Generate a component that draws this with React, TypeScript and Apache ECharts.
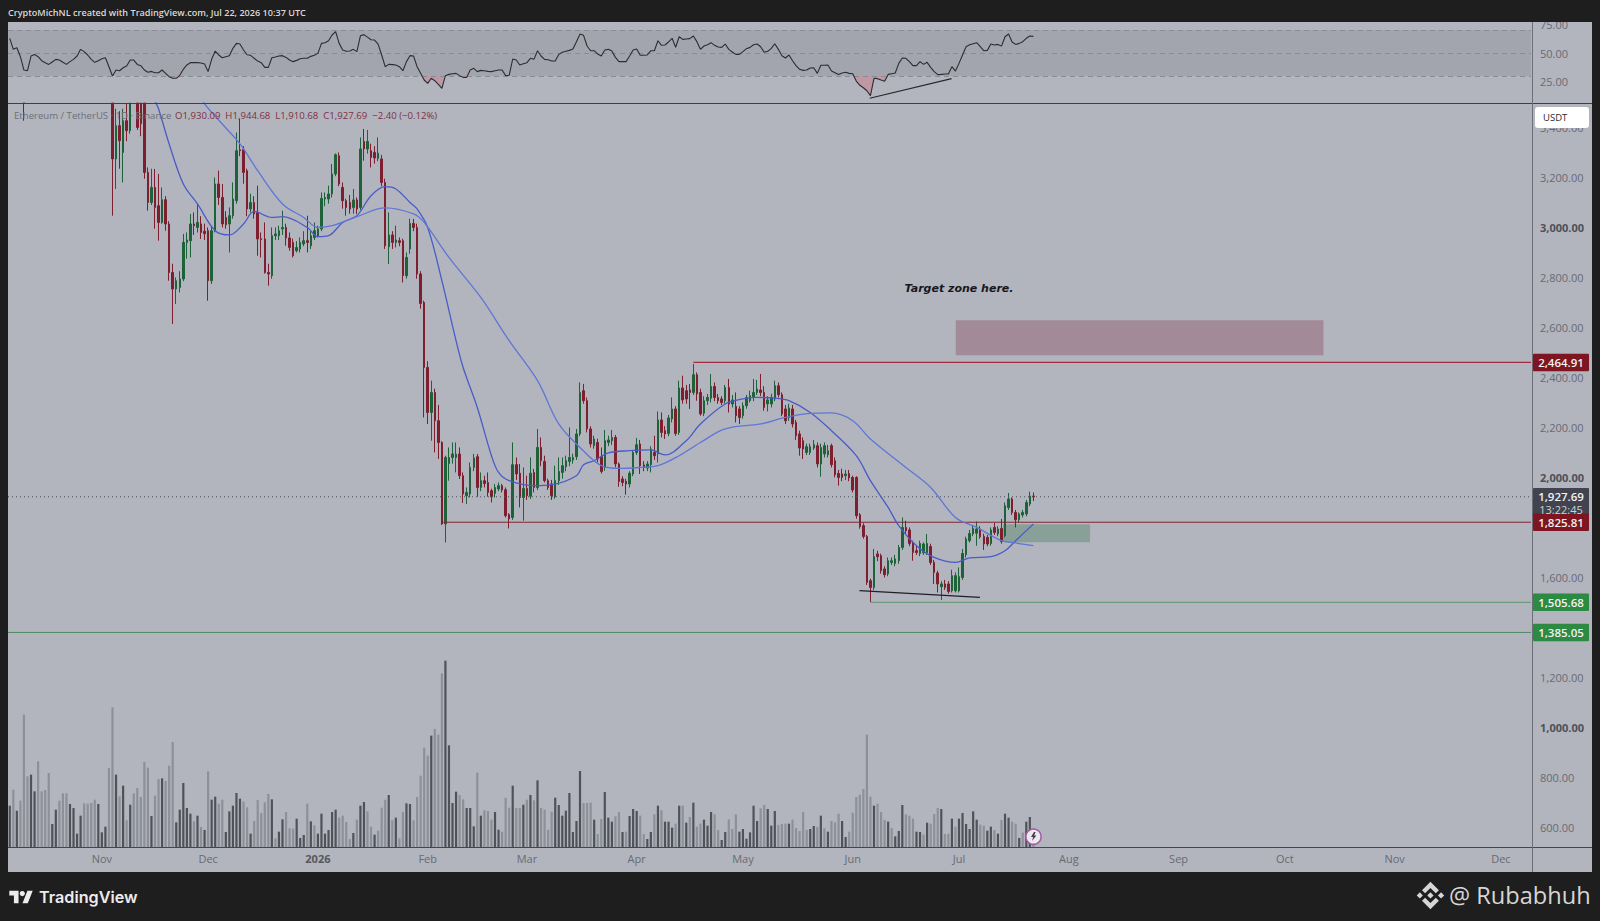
import React, { useEffect, useRef } from "react";
import * as echarts from "echarts";

// ---------- calendar ----------
const firstDayUtc = Date.UTC(2025, 9, 6);
const slotCount = 430;
const dayLabels: string[] = [];
for (let i = 0; i < slotCount; i++) {
  dayLabels.push(new Date(firstDayUtc + i * 86400000).toISOString().slice(0, 10));
}
const tickDates = ["2025-11-01", "2025-12-01", "2026-01-01", "2026-02-01", "2026-03-01", "2026-04-01", "2026-05-01", "2026-06-01", "2026-07-01", "2026-08-01", "2026-09-01", "2026-10-01", "2026-11-01", "2026-12-01"];
const tickNames = ["Nov", "Dec", "2026", "Feb", "Mar", "Apr", "May", "Jun", "Jul", "Aug", "Sep", "Oct", "Nov", "Dec"];

// ---------- daily candles: open, close, low, high ----------
const candles: number[][] = [
[4690,4685,4620,4755],[4685,4525,4490,4750],[4525,4515,4400,4560],[4515,4370,4340,4530],[4370,3830,3432,4395],[3830,3750,3680,3860],[3750,4155,3715,4170],[4155,3990,3930,4295],[3990,4125,3900,4180],[4125,3985,3900,4210],
[3985,3890,3810,4010],[3890,3830,3680,3900],[3830,3890,3700,3960],[3890,3980,3850,4030],[3980,3870,3840,4020],[3870,3790,3720,3910],[3790,3855,3720,3890],[3855,3930,3820,3960],[3930,4030,3910,4060],[4030,4160,4010,4190],
[4160,4115,4060,4250],[4115,3990,3950,4140],[3990,3880,3810,4030],[3880,3840,3760,3920],[3840,3850,3790,3870],[3850,3870,3800,3900],[3870,3790,3760,3880],[3790,3720,3680,3800],[3720,3600,3510,3740],[3600,3279,3052,3620],
[3279,3412,3159,3480],[3412,3352,3240,3470],[3305,3432,3185,3480],[3432,3392,3350,3500],[3392,3560,3380,3600],[3560,3580,3510,3650],[3580,3405,3395,3650],[3530,3420,3370,3590],[3540,3225,3200,3600],[3225,3105,3072,3245],
[3105,3165,3095,3240],[3165,3085,3000,3239],[3092,3025,2952,3219],[3025,3116,3020,3165],[3116,3019,2992,3130],[3019,2825,2792,3030],[2825,2759,2619,2860],[2759,2792,2699,2805],[2765,2799,2745,2830],[2799,2945,2790,2979],
[2945,2955,2880,2985],[2952,3019,2885,3059],[3019,3012,2975,3065],[3005,3025,2985,3099],[3019,2985,2959,3050],[2990,2980,2955,3020],[2992,2792,2712,3005],[2792,2992,2779,3010],[2992,3179,2985,3205],[3179,3125,3095,3232],
[3125,3019,3005,3179],[3045,3016,3000,3070],[3019,3052,2905,3085],[3052,3119,3040,3185],[3112,3312,3100,3385],[3316,3312,3290,3439],[3316,3225,3180,3330],[3232,3079,3050,3240],[3079,3105,3065,3140],[3105,3059,3040,3130],
[3065,2959,2892,3172],[2960,2956,2885,2985],[2959,2825,2820,3025],[2825,2819,2772,2860],[2812,2972,2800,3005],[2972,2979,2955,3005],[2972,2992,2955,3012],[2999,3005,2975,3072],[3005,2963,2932,3020],[2963,2925,2912,2985],
[2945,2892,2885,2960],[2912,2925,2905,2950],[2919,2945,2905,2965],[2939,2952,2930,2990],[2952,2945,2905,3052],[2932,2972,2919,2990],[2965,2992,2955,3025],[2970,2999,2965,3012],[2999,3121,2990,3145],[3119,3125,3090,3145],
[3119,3139,3100,3172],[3139,3219,3125,3259],[3219,3296,3210,3301],[3292,3179,3170,3305],[3165,3112,3080,3185],[3112,3085,3052,3120],[3105,3079,3060,3135],[3085,3115,3060,3159],[3115,3079,3059,3125],[3085,3319,3075,3365],
[3349,3319,3272,3399],[3319,3349,3300,3395],[3312,3285,3245,3340],[3305,3283,3260,3330],[3281,3302,3270,3365],[3279,3185,3170,3295],[3185,2932,2919,3200],[2928,2975,2859,3065],[2975,2945,2919,2990],[2945,2955,2925,3012],
[2952,2945,2930,2965],[2952,2812,2785,2960],[2812,2885,2800,2905],[2919,3021,2900,3040],[3021,3005,2990,3039],[3005,2819,2800,3020],[2819,2701,2680,2830],[2705,2445,2245,2712],[2445,2265,2219,2470],[2265,2345,2152,2392],
[2345,2232,2105,2360],[2232,2145,2079,2295],[2145,1819,1815,2150],[1819,2085,1745,2092],[2061,2085,1992,2125],[2085,2099,2060,2145],[2085,2098,2025,2145],[2099,2012,1999,2125],[2012,1939,1903,2025],[1932,1945,1899,1965],
[1939,2045,1925,2065],[2045,2083,2030,2099],[2088,1965,1928,2099],[1965,1992,1950,2025],[1992,1981,1965,2012],[1985,1945,1928,2025],[1952,1928,1905,1960],[1941,1965,1925,1979],[1959,1972,1950,1985],[1972,1955,1945,1979],
[1956,1852,1845,1965],[1856,1839,1801,1862],[1845,2056,1835,2145],[2056,2019,1995,2085],[2022,1925,1885,2059],[1925,1961,1832,2045],[1961,1932,1915,2012],[1930,2022,1919,2085],[2025,1965,1945,2039],[1965,2125,1955,2199],
[2125,2072,2050,2165],[2069,1992,1985,2092],[1992,1965,1955,2000],[1979,1932,1915,1995],[1928,1992,1920,2052],[1992,2029,1975,2085],[2025,2052,2000,2085],[2048,2072,2030,2092],[2069,2085,2050,2205],[2075,2085,2060,2100],
[2088,2179,2075,2199],[2179,2345,2170,2385],[2352,2312,2300,2379],[2312,2199,2185,2325],[2199,2139,2125,2210],[2132,2159,2120,2172],[2145,2079,2065,2160],[2088,2029,2021,2125],[2045,2152,2032,2195],[2145,2155,2130,2172],
[2152,2165,2135,2195],[2165,2059,2045,2175],[2059,1989,1968,2065],[1999,1985,1970,2010],[1989,1979,1936,2000],[1979,2022,1965,2030],[2019,2105,2010,2115],[2105,2136,2095,2163],[2139,2052,2019,2155],[2055,2045,2030,2070],
[2043,2059,2030,2070],[2056,2119,2025,2130],[2105,2092,2075,2172],[2099,2235,2065,2269],[2235,2185,2165,2265],[2192,2179,2159,2210],[2181,2243,2170,2255],[2239,2279,2225,2325],[2279,2181,2172,2290],[2185,2363,2175,2392],
[2363,2315,2300,2412],[2352,2319,2300,2375],[2355,2345,2279,2379],[2345,2416,2335,2459],[2416,2339,2312,2425],[2345,2259,2252,2360],[2262,2312,2250,2330],[2312,2325,2295,2339],[2322,2369,2305,2419],[2369,2325,2310,2385],
[2325,2312,2300,2339],[2319,2305,2295,2330],[2312,2365,2300,2375],[2365,2299,2265,2399],[2299,2315,2285,2335],[2289,2252,2225,2345],[2279,2245,2219,2290],[2252,2292,2240,2305],[2292,2325,2280,2335],[2312,2332,2305,2352],
[2325,2345,2310,2399],[2345,2359,2335,2395],[2355,2345,2330,2419],[2345,2285,2272,2370],[2299,2315,2269,2330],[2299,2325,2285,2340],[2319,2372,2310,2392],[2372,2336,2325,2385],[2336,2259,2250,2345],[2279,2232,2219,2295],
[2245,2283,2232,2300],[2279,2219,2205,2295],[2225,2172,2155,2235],[2179,2123,2092,2192],[2152,2119,2079,2165],[2105,2128,2095,2140],[2105,2128,2095,2140],[2123,2136,2115,2155],[2132,2059,2045,2145],[2059,2125,2008,2140],
[2099,2132,2085,2145],[2096,2112,2085,2135],[2132,2056,2045,2140],[2072,2016,2005,2085],[2021,2005,1972,2035],[2019,2005,1990,2040],[2012,2019,1995,2035],[2021,2003,1990,2035],[2005,1955,1945,2012],[2005,1852,1840,2010],
[1856,1809,1800,1862],[1812,1769,1760,1822],[1769,1585,1575,1775],[1592,1565,1505.68,1600],[1565,1688,1555,1719],[1699,1688,1670,1712],[1692,1632,1620,1700],[1639,1616,1605,1650],[1619,1672,1610,1685],[1665,1672,1655,1685],
[1661,1679,1650,1695],[1672,1725,1660,1735],[1725,1805,1715,1845],[1805,1792,1780,1832],[1795,1741,1730,1805],[1745,1705,1672,1752],[1712,1705,1695,1732],[1701,1741,1690,1752],[1704,1739,1695,1745],[1704,1741,1695,1779],
[1729,1665,1655,1740],[1665,1625,1579,1675],[1623,1579,1545,1632],[1568,1579,1515,1590],[1579,1565,1555,1595],[1579,1549,1540,1590],[1552,1612,1545,1636],[1552,1612,1545,1625],[1552,1608,1545,1645],[1605,1701,1595,1719],
[1696,1759,1685,1768],[1752,1781,1745,1795],[1779,1801,1770,1812],[1782,1799,1732,1829],[1799,1768,1760,1810],[1769,1739,1715,1780],[1765,1739,1730,1775],[1741,1795,1732,1805],[1805,1785,1775,1825],[1779,1799,1770,1810],
[1801,1749,1740,1839],[1772,1892,1765,1905],[1885,1919,1875,1943],[1919,1865,1855,1925],[1865,1836,1805,1875],[1836,1859,1825,1865],[1855,1865,1845,1875],[1859,1905,1850,1915],[1899,1930.09,1890,1948],[1930.09,1927.69,1910.68,1944.68],
];

// ---------- volume (relative bar heights) ----------
const volumes = [
124,172,109,139,397,212,217,167,257,167,171,222,69,112,139,161,161,129,117,40,
94,131,130,132,142,129,44,61,237,419,217,152,184,80,127,161,177,150,255,238,
93,154,204,206,198,244,315,74,112,192,117,100,77,94,60,51,227,142,151,130,
142,45,107,124,162,145,136,119,40,78,141,102,134,159,143,26,46,83,105,56,
55,85,27,36,130,77,65,40,100,40,51,105,112,88,94,75,24,42,82,124,
135,107,61,37,49,118,142,156,80,88,26,105,131,129,80,150,214,298,274,334,
354,337,521,559,305,132,166,156,143,117,117,62,223,94,110,108,82,105,52,46,
148,118,184,117,117,127,142,156,140,200,117,112,52,106,148,126,94,109,162,45,
78,228,132,132,133,82,39,84,165,88,76,92,105,45,46,93,114,108,94,39,
24,45,98,124,110,76,76,58,70,124,124,73,90,133,61,70,82,64,105,98,
51,21,45,83,54,98,46,54,25,44,124,78,116,126,114,64,108,66,69,70,
70,82,57,48,105,51,54,63,60,94,56,46,78,74,100,78,30,46,103,150,
157,174,337,151,124,130,105,81,76,57,32,48,126,98,94,85,46,45,37,73,
70,99,117,114,39,40,85,61,85,102,69,54,107,82,67,64,49,61,51,40,
81,100,88,76,70,27,43,76,90,12,
];
const volumeTones = [
  "DLDLLLDDLL","LLDDLLLDDD","DLLLLDDDLL","DLDLDLLLLL","DLLDLLLDDD","DDLDLDLDDL","LDDDDDLLDL","LLLLDLDDLL","LDDDLDLDDD","DDDLLLLDLD",
  "DLLDLLLDLD","LLDDLLLLLD","LLLDDDDLLD","DDLDLLLDDL","LLDLLDLDLD","LLLLDDDDDD","DDLLLDLLDD","DLLDLDDDLL","DDLDLDDDLD","LDLDLLDDDL",
  "LDDLLLDDDD","DDLLDDDLLL","DLLLLLDDLD","LDLLLDDLLL","LLLLDLLLDL","DDDLLLDDLD","LLLDLLDLDD","DDDDLLDDLD","LDDLLDLDDL",
].join("");

// ---------- RSI ----------
const rsi = [
62.8,53.2,54.6,46.8,35.2,34.6,47.4,48.8,46.8,43.3,41.6,40.1,42.2,44.5,43.9,41.9,40.1,42.5,44.5,47.4,
53.2,51.2,48.3,44.5,41.9,43.3,45,45.9,38.1,30,35.2,34.6,37.2,38.7,43.9,43.9,40.1,39,35.2,33.2,
34,32.8,32.8,35.2,32.3,29.4,28,28,30.6,35.8,39.6,41.6,41.6,41.6,41.3,40.4,33.8,44.5,51.7,48.3,
45.9,46.8,47.7,54.1,58.4,57.8,52.6,48.5,48,45.4,43,41.6,37.5,37.5,45.9,46.5,47.4,47.7,46.2,43.9,
42.5,43.6,45,45.4,45.4,47.1,48,49.7,58.4,59,60.7,65.7,68.6,58.4,52.6,51.5,51.7,53.2,51.2,65,
66,63.8,61.6,61.3,57.8,48.3,38.1,40.1,39.9,39.6,38.1,34.6,42.5,47.7,47.4,38.1,32.3,26.5,23.6,28,
25.9,22.7,19.3,30.3,31.4,32,32.3,30.3,28.8,28.8,35.2,36.7,33.8,34.9,34.6,34,33.8,34.6,35.2,35.2,
30.3,30.6,44.8,43.9,39.6,40.7,41.6,45.4,44.5,52,47.4,44.5,44.2,43,43,48.8,50.6,51.5,52.3,53.5,
59.9,66.5,65.4,56.1,52,52,49.1,47.4,52.6,53.2,51.7,46.2,42.5,42.5,42.5,47.4,52.6,53.5,48,48,
48.3,52,52,60.7,56.7,57,59.6,62.8,55,64.2,61.9,62.2,62.5,64.8,59.9,53.2,56.1,57.2,59,56.7,
55.2,54.9,57.8,53.2,50.9,48.8,48.8,51.2,53.8,54.9,57.2,57.8,55.5,50.6,51.5,54.1,58.1,53.2,47.7,45.7,
48.3,43.3,39,35.8,34.9,35.2,37,37.2,32.3,39.3,39.3,39.6,34.3,32.9,31.4,32.6,33.2,32.3,32,25.6,
21.9,19.8,17.2,12.9,28,27.7,26.5,25.4,31.4,32,32.6,41,45.7,45.4,42.5,39,39,42.5,40.1,41.9,
37.5,33.8,31.2,31.4,31.7,31.7,38.1,34.3,41,48.3,55.5,57.2,58.1,59,55.5,52,52.3,57.8,57,57.5,
56,64.2,66.5,59.6,57.5,58.4,59.9,62.8,64.8,64.5,
];
const rsiLevels = [70, 50, 30];
const rsiTicks = [75, 50, 25];
const rsiTrend = [[243.3, 10.6], [266.4, 27.7]];

// ---------- moving averages: [day number, price] ----------
const maFast = [[41,3510],[42,3480],[45,3339],[49,3179],[53,3099],[58,2992],[62,2975],[66,3019],[69,3069],[74,3045],[77,3048],[84,3005],[87,2968],[90,2972],[94,3025],[98,3052],[102,3132],[106,3168],[109,3159],[113,3105],[115,3079],[118,3005],[122,2792],[126,2552],[128,2445],[132,2285],[136,2092],[138,2025],[141,1992],[148,1972],[153,1976],[160,2012],[162,2056],[165,2072],[169,2103],[175,2112],[181,2115],[185,2095],[191,2152],[195,2219],[202,2299],[207,2319],[211,2325],[216,2322],[220,2312],[226,2265],[232,2192],[239,2092],[243,1992],[248,1885],[251,1812],[256,1732],[261,1685],[267,1665],[271,1683],[277,1688],[281,1712],[284,1752],[289,1819]];
const maSlow = [[54,3530],[55,3499],[60,3419],[65,3339],[70,3232],[77,3099],[83,3045],[87,3005],[91,3012],[98,3048],[106,3083],[114,3059],[117,3025],[124,2885],[133,2725],[141,2552],[149,2392],[155,2219],[161,2125],[167,2052],[172,2041],[178,2045],[183,2052],[189,2092],[195,2145],[202,2199],[212,2219],[219,2245],[226,2261],[232,2263],[238,2232],[243,2159],[253,2045],[260,1965],[267,1845],[273,1805],[280,1752],[284,1743],[289,1732]];

// ---------- price scale and levels ----------
const priceMin = 526.8;
const priceMax = 3502.8;
const priceTicks = [600, 800, 1000, 1200, 1400, 1600, 2000, 2200, 2400, 2600, 2800, 3000, 3200, 3400];
const strongTicks = [1000, 2000, 3000];
const lastPrice = 1927.69;
const resistanceHigh = 2464.91;
const resistanceLow = 1825.81;
const supportHigh = 1505.68;
const supportLow = 1385.05;
const countdown = "13:22:45";
const targetZone = { fromDay: 267.6, toDay: 371.4, top: 2634, bottom: 2494 };
const buyZone = { fromDay: 280.9, toDay: 305.5, top: 1818, bottom: 1746 };
const lowsTrend = [[240.4, 1552], [274.4, 1525]];

const header = "CryptoMichNL created with TradingView.com, Jul 22, 2026 10:37 UTC";
const symbolTitle = "Ethereum / TetherUS · 1D · Binance";
const ohlcLine = "O1,930.09  H1,944.68  L1,910.68  C1,927.69  −2.40 (−0.12%)";

// ---------- styling ----------
const UP = "#1d6238";
const DOWN = "#7d1f2e";
const VOL_DARK = "#50525a";
const VOL_LIGHT = "#8d9099";
const BLUE_A = "#4a5bc8";
const BLUE_B = "#5f76d6";
const FRAME = "#1e1e1e";
const PANEL = "#b2b5be";
const AXIS_TEXT = "#686a73";
const FONT = "'Open Sans', 'Noto Sans', sans-serif";

const TV_LOGO = "M14 22H7V11H0V4h14v18zM28 22h-8l7.5-18h8L28 22z";
const BNB_LOGO = "M38.73 53.2l24.59-24.58 24.6 24.6 14.3-14.31L63.32 0 24.42 38.9zM0 63.31l14.3-14.31 14.31 14.31-14.31 14.3zM38.73 73.41l24.59 24.59 24.6-24.6 14.31 14.29-38.9 38.91-38.91-38.88zM98 63.31l14.3-14.3 14.31 14.3-14.31 14.3zM77.83 63.3L63.32 48.78 52.59 59.51l-1.24 1.23-2.54 2.54 14.51 14.5 14.51-14.47z";
const BOLT = "M3 0L0 5h2.2L1 9l4.4-5.4H3.2L4.6 0z";

const fmt = (v: number) => v.toLocaleString("en-US", { minimumFractionDigits: 2, maximumFractionDigits: 2 });
const priceY = (p: number) => 103 + (priceMax - p) * 0.25;

function levelSeries(points: number[][], color: string, width = 1, type: any = "solid") {
  return {
    type: "line", xAxisIndex: 1, yAxisIndex: 0, data: points, symbol: "none", silent: true, z: 4,
    lineStyle: { color, width, type },
  };
}
function zoneSeries(zone: any, color: string) {
  return {
    type: "line", xAxisIndex: 1, yAxisIndex: 0, data: [], symbol: "none", silent: true, z: 1,
    markArea: {
      silent: true, itemStyle: { color },
      data: [[{ coord: [zone.fromDay, zone.top] }, { coord: [zone.toDay, zone.bottom] }]],
    },
  };
}
function priceTag(value: number, color: string) {
  const y = priceY(value);
  return [
    { type: "rect", z: 50, shape: { x: 1533, y: y - 8.7, width: 56, height: 17.4, r: 1 }, style: { fill: color } },
    { type: "text", z: 51, style: { x: 1561, y, text: fmt(value), fill: "#f2f2f2", font: `600 11.5px ${FONT}`, textAlign: "center", textVerticalAlign: "middle" } },
  ];
}

export default function App() {
  const ref = useRef<HTMLDivElement>(null);
  useEffect(() => {
    echarts.graphic.registerShape("tvMark", echarts.graphic.extendPath(TV_LOGO, {}));
    echarts.graphic.registerShape("bnbMark", echarts.graphic.extendPath(BNB_LOGO, {}));
    echarts.graphic.registerShape("boltMark", echarts.graphic.extendPath(BOLT, {}));

    const chart = echarts.init(ref.current!, undefined, { renderer: "svg" });
    const rsiBase: (number | null)[] = rsi.map((v, i) => {
      const near = v < 30 || (rsi[i - 1] ?? 99) < 30 || (rsi[i + 1] ?? 99) < 30;
      return near ? Math.min(v, 30) : null;
    });
    const rsiFill = rsiBase.map((v) => (v == null ? null : 30 - v));
    const tickIndex = new Map(tickDates.map((d, i) => [d, tickNames[i]]));
    // A candle's body and wick are not cut at the pane's edge by the library, so stop those that cross it there.
    const drawnCandles = candles.map((c) => (c[2] < priceMax && c[3] > priceMax ? c.map((v) => Math.min(v, priceMax)) : c));

    chart.setOption({
      animation: false,
      backgroundColor: PANEL,
      textStyle: { fontFamily: FONT },
      grid: [
        { left: 8, width: 1523, top: 103, height: 744 },
        { left: 8, width: 1523, top: 22, height: 81 },
      ],
      xAxis: [
        {
          type: "category", gridIndex: 0, data: dayLabels, boundaryGap: true,
          axisLine: { show: false }, axisTick: { show: false }, splitLine: { show: false },
          axisLabel: {
            interval: (_: number, v: string) => tickIndex.has(v),
            formatter: (v: string) => {
              const t = tickIndex.get(v) || "";
              return t === "2026" ? `{b|${t}}` : t;
            },
            color: AXIS_TEXT, fontSize: 11, margin: 6, fontFamily: FONT,
            rich: { b: { fontWeight: 700, color: "#55575f", fontSize: 11, fontFamily: FONT } },
          },
        },
        { type: "value", gridIndex: 0, min: 0, max: slotCount, show: false },
        { type: "category", gridIndex: 1, data: dayLabels, show: false },
        { type: "value", gridIndex: 1, min: 0, max: slotCount, show: false },
      ],
      yAxis: [
        {
          type: "value", gridIndex: 0, position: "right", min: priceMin, max: priceMax, scale: true,
          axisLine: { show: false }, axisTick: { show: false }, splitLine: { show: false },
          axisLabel: {
            customValues: priceTicks, margin: 9, align: "left", color: AXIS_TEXT, fontSize: 11, fontFamily: FONT,
            padding: [0, 0, 2, 0],
            formatter: (v: number) => (strongTicks.includes(v) ? `{b|${fmt(v)}}` : fmt(v)),
            rich: { b: { fontWeight: 700, color: "#4e5058", fontSize: 11, fontFamily: FONT } },
          },
        },
        { type: "value", gridIndex: 0, min: 0, max: 2232, show: false },
        {
          type: "value", gridIndex: 1, position: "right", min: 6.5, max: 77,
          axisLine: { show: false }, axisTick: { show: false }, splitLine: { show: false },
          axisLabel: { customValues: rsiTicks, margin: 9, align: "left", color: AXIS_TEXT, fontSize: 11, fontFamily: FONT, padding: [0, 0, 5, 0], formatter: (v: number) => fmt(v) },
        },
      ],
      series: [
        zoneSeries(targetZone, "rgba(135,55,80,0.34)"),
        zoneSeries(buyZone, "rgba(70,125,90,0.38)"),
        {
          type: "bar", xAxisIndex: 0, yAxisIndex: 1, barWidth: 2.2, z: 1, silent: true,
          data: volumes.map((v, i) => ({ value: v, itemStyle: { color: volumeTones[i] === "D" ? VOL_DARK : VOL_LIGHT } })),
        },
        levelSeries([[0, lastPrice], [slotCount, lastPrice]], "#50525a", 1, [1, 3]),
        {
          type: "candlestick", xAxisIndex: 0, yAxisIndex: 0, data: drawnCandles, barWidth: 2, z: 3, silent: true, clip: true,
          itemStyle: { color: UP, color0: DOWN, borderColor: UP, borderColor0: DOWN, borderWidth: 1 },
        },
        levelSeries([[193.5, resistanceHigh], [slotCount, resistanceHigh]], "#a32c40", 1.2),
        levelSeries([[122.9, resistanceLow], [slotCount, resistanceLow]], "#842433", 1),
        levelSeries([[243.5, supportHigh], [slotCount, supportHigh]], "#6f9c7e", 1.2),
        levelSeries([[0, supportLow], [slotCount, supportLow]], "#4d8a60", 1),
        levelSeries(lowsTrend, "#1f2024", 1.3),
        { type: "line", xAxisIndex: 0, yAxisIndex: 0, data: maFast, symbol: "none", smooth: 0.35, z: 5, silent: true, lineStyle: { color: BLUE_A, width: 1.3 } },
        { type: "line", xAxisIndex: 0, yAxisIndex: 0, data: maSlow, symbol: "none", smooth: 0.35, z: 5, silent: true, lineStyle: { color: BLUE_B, width: 1.3 } },
        {
          type: "line", xAxisIndex: 2, yAxisIndex: 2, data: rsi, symbol: "none", z: 5, silent: true,
          lineStyle: { color: "#2b2d33", width: 1.1 },
          markArea: { silent: true, itemStyle: { color: "#a2a5ae" }, data: [[{ yAxis: rsiLevels[0] }, { yAxis: rsiLevels[2] }]] },
          markLine: {
            silent: true, symbol: "none", label: { show: false },
            lineStyle: { color: "#8a8c95", type: [5, 4], width: 1 },
            data: rsiLevels.map((l) => ({ yAxis: l })),
          },
        },
        { type: "line", xAxisIndex: 2, yAxisIndex: 2, stack: "os", data: rsiBase, symbol: "none", z: 3, silent: true, lineStyle: { width: 0 } },
        { type: "line", xAxisIndex: 2, yAxisIndex: 2, stack: "os", data: rsiFill, symbol: "none", z: 3, silent: true, lineStyle: { width: 0 }, areaStyle: { color: "rgba(225,85,100,0.42)" } },
        { type: "line", xAxisIndex: 3, yAxisIndex: 2, data: rsiTrend, symbol: "none", z: 6, silent: true, lineStyle: { color: "#26272c", width: 1.2 } },
      ],
      graphic: {
        elements: [
          // frame around the chart
          { type: "rect", z: 40, shape: { x: 0, y: 0, width: 1600, height: 22 }, style: { fill: FRAME } },
          { type: "rect", z: 40, shape: { x: 0, y: 872, width: 1600, height: 49 }, style: { fill: FRAME } },
          { type: "rect", z: 40, shape: { x: 0, y: 0, width: 8, height: 921 }, style: { fill: FRAME } },
          { type: "rect", z: 40, shape: { x: 1592, y: 0, width: 8, height: 921 }, style: { fill: FRAME } },
          { type: "line", z: 41, shape: { x1: 8, y1: 103.5, x2: 1592, y2: 103.5 }, style: { stroke: "#3d3f47", lineWidth: 1 } },
          { type: "line", z: 41, shape: { x1: 8, y1: 847.5, x2: 1592, y2: 847.5 }, style: { stroke: "#44464e", lineWidth: 1 } },
          { type: "line", z: 41, shape: { x1: 1532.5, y1: 22, x2: 1532.5, y2: 872 }, style: { stroke: "#6c6e77", lineWidth: 1 } },
          // texts
          { type: "text", z: 42, style: { x: 8, y: 12, text: header, fill: "#d9d9d9", font: `600 9.1px ${FONT}`, textVerticalAlign: "middle" } },
          { type: "text", z: 42, style: { x: 14, y: 115.5, text: symbolTitle, fill: "#6d6f78", font: `9.6px ${FONT}`, textVerticalAlign: "middle" } },
          { type: "text", z: 42, style: { x: 175, y: 115.5, text: ohlcLine, fill: "#7f3040", font: `9.6px ${FONT}`, textVerticalAlign: "middle" } },
          { type: "text", z: 42, style: { x: 959, y: 288, text: "Target zone here.", fill: "#17181b", font: `italic 700 11px 'DejaVu Sans', sans-serif`, textAlign: "center", textVerticalAlign: "middle" } },
          // currency button
          { type: "rect", z: 50, shape: { x: 1535, y: 107, width: 54, height: 21, r: 3 }, style: { fill: "#ffffff" } },
          { type: "text", z: 51, style: { x: 1543, y: 117.5, text: "USDT", fill: "#2a2b30", font: `9.5px ${FONT}`, textVerticalAlign: "middle" } },
          // price tags
          ...priceTag(resistanceHigh, "#7e1621"),
          ...priceTag(resistanceLow, "#7e1621"),
          ...priceTag(supportHigh, "#2c8a42"),
          ...priceTag(supportLow, "#2c8a42"),
          { type: "rect", z: 49, shape: { x: 1533, y: 488, width: 56, height: 29.5, r: 1 }, style: { fill: "#41434f" } },
          { type: "text", z: 51, style: { x: 1561, y: 496.5, text: fmt(lastPrice), fill: "#f2f2f2", font: `600 11.5px ${FONT}`, textAlign: "center", textVerticalAlign: "middle" } },
          { type: "text", z: 51, style: { x: 1561, y: 509, text: countdown, fill: "#d0d1d6", font: `11px ${FONT}`, textAlign: "center", textVerticalAlign: "middle" } },
          // flash badge on the volume pane
          { type: "circle", z: 30, shape: { cx: 1033.5, cy: 836.7, r: 7.6 }, style: { fill: "#ece8f0", stroke: "#a45aa0", lineWidth: 1.5 } },
          { type: "boltMark", z: 31, x: 1031, y: 832, scaleX: 1, scaleY: 1, style: { fill: "#4a3a4e" } },
          // watermarks
          { type: "tvMark", z: 42, x: 9.3, y: 888, scaleX: 0.66, scaleY: 0.69, style: { fill: "#ececec" } },
          { type: "circle", z: 42, shape: { cx: 22.3, cy: 893.6, r: 2.6 }, style: { fill: "#ececec" } },
          { type: "text", z: 42, style: { x: 39, y: 897, text: "TradingView", fill: "#ececec", font: `600 16.2px Inter, sans-serif`, textVerticalAlign: "middle" } },
          { type: "bnbMark", z: 42, x: 1416.7, y: 881.7, scaleX: 0.217, scaleY: 0.217, style: { fill: "#d6d6d6" } },
          { type: "text", z: 42, style: { x: 1449, y: 895, text: "@ Rubabhuh", fill: "#d6d6d6", font: `23.6px ${FONT}`, textVerticalAlign: "middle" } },
        ],
      },
    });
    return () => chart.dispose();
  }, []);
  return <div ref={ref} style={{ position: "absolute", left: 0, top: 0, width: 1600, height: 921 }} />;
}
